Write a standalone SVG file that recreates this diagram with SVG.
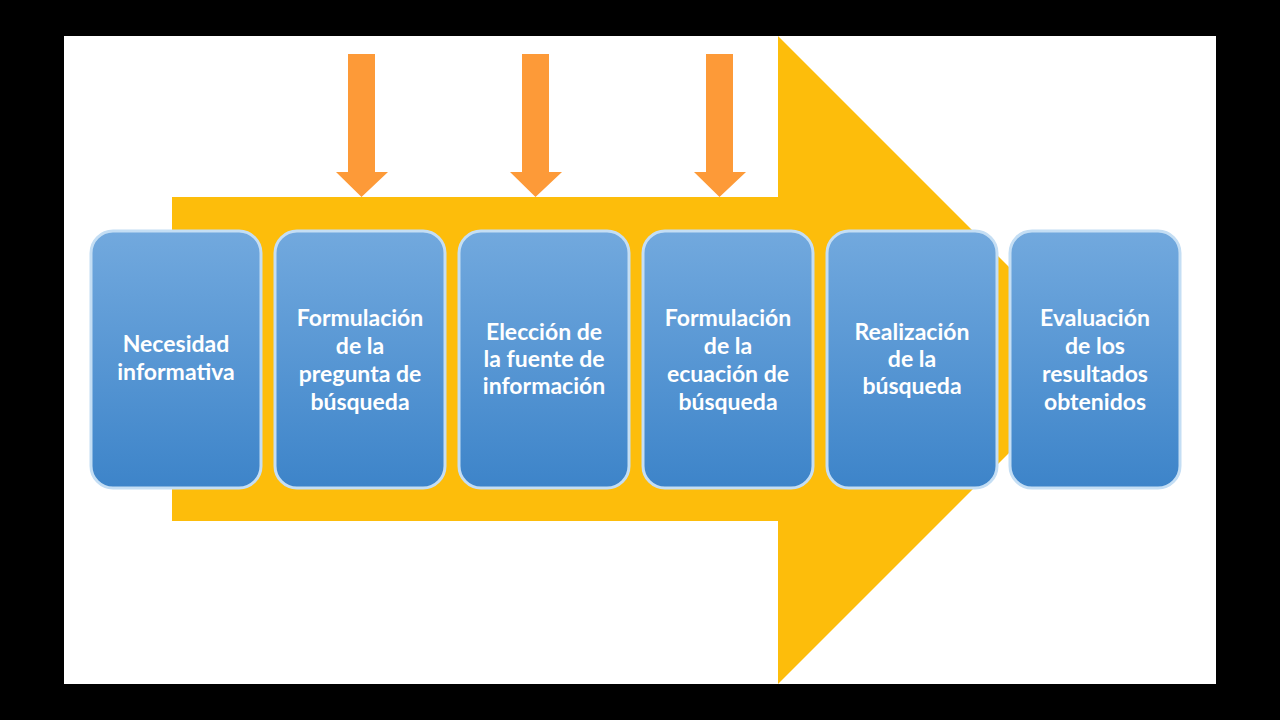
<svg xmlns="http://www.w3.org/2000/svg" width="1280" height="720" viewBox="0 0 1280 720">
<defs>
<linearGradient id="g" x1="0" y1="0" x2="0" y2="1">
<stop offset="0" stop-color="#72a9de"/><stop offset="1" stop-color="#3d84c9"/>
</linearGradient>
<style>
.box{fill:url(#g);stroke:#c4def4;stroke-width:3}
.t{font-family:Lato,"Open Sans","Liberation Sans",sans-serif;font-weight:bold;font-size:23px;fill:#fff;text-anchor:middle}
.oa{fill:#fd9a38}
</style>
</defs>
<rect width="1280" height="720" fill="#000"/>
<rect x="64" y="36" width="1152" height="648" fill="#fff"/>
<g id="bigarrow"><polygon points="172,197 778,197 778,36 1102,360 778,684 778,521 172,521" fill="#fdbd0b"/></g>
<g id="connectors">
<polygon class="oa" points="348,54 375,54 375,172 388,172 361.5,197 336,172 348,172"/>
<polygon class="oa" points="522,54 549,54 549,172 562,172 535.5,197 510,172 522,172"/>
<polygon class="oa" points="706,54 733,54 733,172 746,172 719.5,197 694,172 706,172"/>
</g>
<g id="n1"><rect class="box" x="91" y="231" width="170" height="257" rx="22"/><text class="t" x="176" y="352">Necesidad</text><text class="t" x="176" y="380">informativa</text></g>
<g id="n2"><rect class="box" x="275" y="231" width="170" height="257" rx="22"/><text class="t" x="360" y="326">Formulación</text><text class="t" x="360" y="354">de la</text><text class="t" x="360" y="382">pregunta de</text><text class="t" x="360" y="410">búsqueda</text></g>
<g id="n3"><rect class="box" x="459" y="231" width="170" height="257" rx="22"/><text class="t" x="544" y="340">Elección de</text><text class="t" x="544" y="367">la fuente de</text><text class="t" x="544" y="394">información</text></g>
<g id="n4"><rect class="box" x="643" y="231" width="170" height="257" rx="22"/><text class="t" x="728" y="326">Formulación</text><text class="t" x="728" y="354">de la</text><text class="t" x="728" y="382">ecuación de</text><text class="t" x="728" y="410">búsqueda</text></g>
<g id="n5"><rect class="box" x="827" y="231" width="170" height="257" rx="22"/><text class="t" x="912" y="340">Realización</text><text class="t" x="912" y="367">de la</text><text class="t" x="912" y="394">búsqueda</text></g>
<g id="n6"><rect class="box" x="1010" y="231" width="170" height="257" rx="22"/><text class="t" x="1095" y="326">Evaluación</text><text class="t" x="1095" y="354">de los</text><text class="t" x="1095" y="382">resultados</text><text class="t" x="1095" y="410">obtenidos</text></g>
</svg>
